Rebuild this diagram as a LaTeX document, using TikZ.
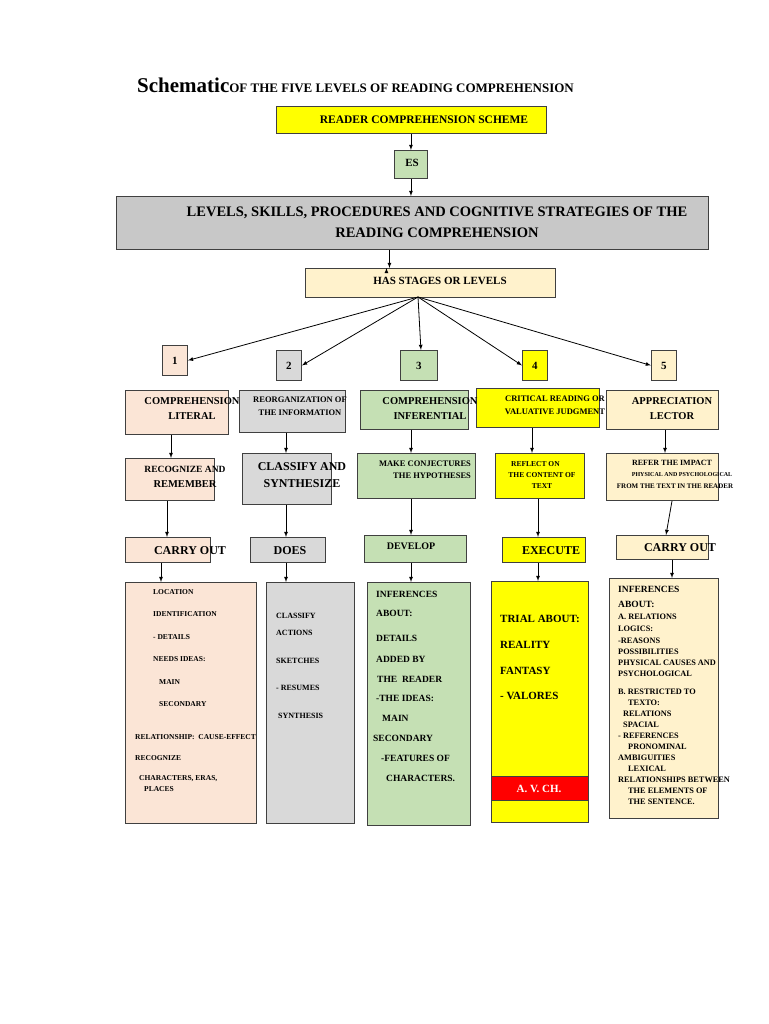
\documentclass[tikz,border=0pt]{standalone}
\usepackage{fontspec}
\setmainfont{Liberation Serif}
\begin{document}
\begin{tikzpicture}[x=1pt,y=-1pt,
  box/.style={draw=black!75,line width=0.9pt,inner sep=0pt,anchor=north west},
  tx/.style={font=\bfseries,inner sep=0pt,align=center},
  lt/.style={font=\bfseries,inner sep=0pt,anchor=west},
  arr/.style={-latex,line width=0.8pt}]
\definecolor{pe}{HTML}{FBE5D6}\definecolor{gr}{HTML}{D9D9D9}\definecolor{gn}{HTML}{C5E0B4}
\definecolor{yl}{HTML}{FFFF00}\definecolor{ly}{HTML}{FFF2CC}\definecolor{bg}{HTML}{C8C8C8}
\useasboundingbox[fill=white] (0,0) rectangle (768,1024);
\newcommand\bx[6]{\node[box,fill=#2,minimum width=#5-#3,minimum height=#6-#4] (#1) at (#3,#4) {};}
\node[inner sep=0pt,anchor=base west,font=\bfseries] (title) at (137,93) {{\fontsize{21}{24}\selectfont Schematic}{\fontsize{13}{15}\selectfont OF THE FIVE LEVELS OF READING COMPREHENSION}};
\bx{rcs}{yl}{276}{106}{546}{133}
\node[tx,font=\bfseries\fontsize{11.5}{13}\selectfont] (rcst) at (424,120) {READER COMPREHENSION SCHEME};
\bx{es}{gn}{394}{150}{427}{178}
\node[tx,font=\bfseries\fontsize{11}{13}\selectfont] (est) at (412,163) {ES};
\bx{big}{bg}{116}{196}{708}{249}
\node[tx,font=\bfseries\fontsize{14.5}{21}\selectfont] (bigt) at (437,222) {LEVELS, SKILLS, PROCEDURES AND COGNITIVE STRATEGIES OF THE\\READING COMPREHENSION};
\bx{has}{ly}{305}{268}{555}{297}
\node[tx,font=\bfseries\fontsize{11}{13}\selectfont] (hast) at (440,281) {HAS STAGES OR LEVELS};
\draw[arr] (rcs.south -| es) -- (es.north);
\draw[arr] (es.south) -- (es.south |- big.north);
\draw[arr] ([xshift=-26pt]has.north -| big.south) ++(0,0) coordinate (bgs);
\draw[arr] ([xshift=-23pt]big.south) -- ([xshift=-23pt]big.south |- has.north);
% numbers
\bx{n1}{pe}{162}{345}{187}{375}\bx{n2}{gr}{276}{350}{301}{380}\bx{n3}{gn}{400}{350}{437}{380}
\bx{n4}{yl}{522}{350}{547}{380}\bx{n5}{ly}{651}{350}{676}{380}
\foreach \n in {1,...,5}{\node[tx,font=\bfseries\fontsize{11}{13}\selectfont] (n\n t) at (n\n) {\n};}
\coordinate (hs) at (418,297);
\draw[arr] (hs) -- (n1.east); \draw[arr] (hs) -- (n2.east); \draw[arr] (hs) -- ([xshift=2pt]n3.north);
\draw[arr] (hs) -- (n4.west); \draw[arr] (hs) -- (n5.west);
% row 1
\bx{a1}{pe}{125}{390}{228}{434}\bx{a2}{gr}{239}{390}{345}{432}\bx{a3}{gn}{360}{390}{468}{429}
\bx{a4}{yl}{476}{388}{599}{427}\bx{a5}{ly}{606}{390}{718}{429}
\node[tx,font=\bfseries\fontsize{10.5}{15}\selectfont] (a1t) at (192,409) {COMPREHENSION\\LITERAL};
\node[tx,font=\bfseries\fontsize{8.5}{13}\selectfont] (a2t) at (300,406) {REORGANIZATION OF\\THE INFORMATION};
\node[tx,font=\bfseries\fontsize{10.5}{15}\selectfont] (a3t) at (430,409) {COMPREHENSION\\INFERENTIAL};
\node[tx,font=\bfseries\fontsize{8.5}{13}\selectfont] (a4t) at (555,405) {CRITICAL READING OR\\VALUATIVE JUDGMENT};
\node[tx,font=\bfseries\fontsize{10.5}{15}\selectfont] (a5t) at (672,409) {APPRECIATION\\LECTOR};
% row 2
\bx{b1}{pe}{125}{458}{214}{500}\bx{b2}{gr}{242}{453}{331}{504}\bx{b3}{gn}{357}{453}{475}{498}
\bx{b4}{yl}{495}{453}{584}{498}\bx{b5}{ly}{606}{453}{718}{500}
\node[tx,font=\bfseries\fontsize{9.5}{15}\selectfont] (b1t) at (185,477) {RECOGNIZE AND\\\fontsize{10.5}{13}\selectfont REMEMBER};
\node[tx,font=\bfseries\fontsize{12}{17}\selectfont] (b2t) at (302,475) {CLASSIFY AND\\SYNTHESIZE};
\node[tx,align=right,font=\bfseries\fontsize{8.5}{12}\selectfont] (b3t) at (425,470) {MAKE CONJECTURES\\THE HYPOTHESES~};
\node[tx,font=\bfseries\fontsize{7.5}{11}\selectfont] (b4t) at (542,475) {REFLECT ON~~~~~~~~\\THE CONTENT OF\\TEXT};
\node[tx,font=\bfseries\fontsize{8}{10}\selectfont] (b5ta) at (672,463) {REFER THE IMPACT};
\node[tx,font=\bfseries\fontsize{6}{8}\selectfont] (b5tb) at (682,475) {PHYSICAL AND PSYCHOLOGICAL};
\node[tx,font=\bfseries\fontsize{7}{9}\selectfont] (b5tc) at (675,486) {FROM THE TEXT IN THE READER};
% row 3
\bx{c1}{pe}{125}{537}{210}{562}\bx{c2}{gr}{250}{537}{325}{562}\bx{c3}{gn}{364}{535}{466}{562}
\bx{c4}{yl}{502}{537}{585}{562}\bx{c5}{ly}{616}{535}{708}{559}
\node[tx,font=\bfseries\fontsize{12}{14}\selectfont] (c1t) at (190,551) {CARRY OUT};
\node[tx,font=\bfseries\fontsize{12}{14}\selectfont] (c2t) at (290,551) {DOES};
\node[tx,font=\bfseries\fontsize{10}{12}\selectfont] (c3t) at (411,546) {DEVELOP};
\node[tx,font=\bfseries\fontsize{12}{14}\selectfont] (c4t) at (551,551) {EXECUTE};
\node[tx,font=\bfseries\fontsize{12}{14}\selectfont] (c5t) at (680,548) {CARRY OUT};
% row 4
\bx{d1}{pe}{125}{582}{256}{823}\bx{d2}{gr}{266}{582}{354}{823}\bx{d3}{gn}{367}{582}{470}{825}
\bx{d4}{yl}{491}{581}{588}{822}\bx{d5}{ly}{609}{578}{718}{818}
\node[box,fill=red,minimum width=97,minimum height=24] (avch) at (491,776) {};
\node[tx,text=white,font=\bfseries\fontsize{11}{13}\selectfont] (avcht) at (539,789) {A. V. CH.};
% vertical arrows
\draw[arr] ([xshift=46pt]a1.south west) -- ([xshift=46pt]b1.north west);
\draw[arr] ([xshift=42pt]b1.south west) -- ([xshift=42pt]c1.north west);
\draw[arr] ([xshift=36pt]c1.south west) -- ([xshift=36pt]d1.north west);
\draw[arr] ([xshift=47pt]a2.south west) -- ([xshift=44pt]b2.north west |- b2.north);
\draw[arr] ([xshift=44pt]b2.south west) -- ([xshift=36pt]c2.north west);
\draw[arr] ([xshift=36pt]c2.south west) -- ([xshift=20pt]d2.north west);
\draw[arr] ([xshift=51pt]a3.south west) -- ([xshift=54pt]b3.north west);
\draw[arr] ([xshift=54pt]b3.south west) -- ([xshift=47pt]c3.north west);
\draw[arr] ([xshift=47pt]c3.south west) -- ([xshift=44pt]d3.north west);
\draw[arr] ([xshift=56pt]a4.south west) -- ([xshift=37pt]b4.north west);
\draw[arr] ([xshift=43pt]b4.south west) -- ([xshift=36pt]c4.north west);
\draw[arr] ([xshift=36pt]c4.south west) -- ([xshift=47pt]d4.north west);
\draw[arr] ([xshift=59pt]a5.south west) -- ([xshift=59pt]b5.north west);
\draw[arr] ([xshift=66pt]b5.south west) -- ([xshift=50pt]c5.north west);
\draw[arr] ([xshift=56pt]c5.south west) -- ([xshift=63pt]d5.north west);
% texts row 4
\foreach \x/\y/\t [count=\i] in {153/592/LOCATION,153/614/IDENTIFICATION,153/637/- DETAILS,153/659/NEEDS IDEAS:,159/682/MAIN,159/704/SECONDARY,135/737/RELATIONSHIP:~ CAUSE-EFFECT,135/758/RECOGNIZE,139/779/{CHARACTERS, ERAS,},144/789/PLACES}
  \node[lt,font=\bfseries\fontsize{7.5}{9}\selectfont] (e1-\i) at (\x,\y) {\t};
\foreach \x/\y/\t [count=\i] in {276/616/CLASSIFY,276/633/ACTIONS,276/661/SKETCHES,276/688/- RESUMES,278/716/SYNTHESIS}
  \node[lt,font=\bfseries\fontsize{8}{10}\selectfont] (e2-\i) at (\x,\y) {\t};
\foreach \x/\y/\t [count=\i] in {376/594/INFERENCES,376/613/ABOUT:,376/638/DETAILS,376/659/ADDED BY,377/679/THE~ READER,376/698/-THE IDEAS:,382/718/MAIN,373/738/SECONDARY,381/758/-FEATURES OF,386/778/CHARACTERS.}
  \node[lt,font=\bfseries\fontsize{9.5}{11}\selectfont] (e3-\i) at (\x,\y) {\t};
\foreach \x/\y/\t [count=\i] in {500/619/TRIAL ABOUT:,500/645/REALITY,500/671/FANTASY,500/696/- VALORES}
  \node[lt,font=\bfseries\fontsize{11}{13}\selectfont] (e4-\i) at (\x,\y) {\t};
\node[lt,font=\bfseries\fontsize{9.5}{11}\selectfont] (e5-a) at (618,589) {INFERENCES};
\node[lt,font=\bfseries\fontsize{9.5}{11}\selectfont] (e5-b) at (618,604) {ABOUT:};
\foreach \x/\y/\t [count=\i] in {618/617/A. RELATIONS,618/629/LOGICS:,618/641/-REASONS,618/652/POSSIBILITIES,618/663/PHYSICAL CAUSES AND,618/674/PSYCHOLOGICAL,618/692/B. RESTRICTED TO,628/703/TEXTO:,623/714/RELATIONS,623/725/SPACIAL,618/736/- REFERENCES,628/747/PRONOMINAL,618/758/AMBIGUITIES,628/769/LEXICAL,618/780/RELATIONSHIPS BETWEEN,628/791/THE ELEMENTS OF,628/802/THE SENTENCE.}
  \node[lt,font=\bfseries\fontsize{8.3}{10}\selectfont] (e5-\i) at (\x,\y) {\t};
\end{tikzpicture}
\end{document}
